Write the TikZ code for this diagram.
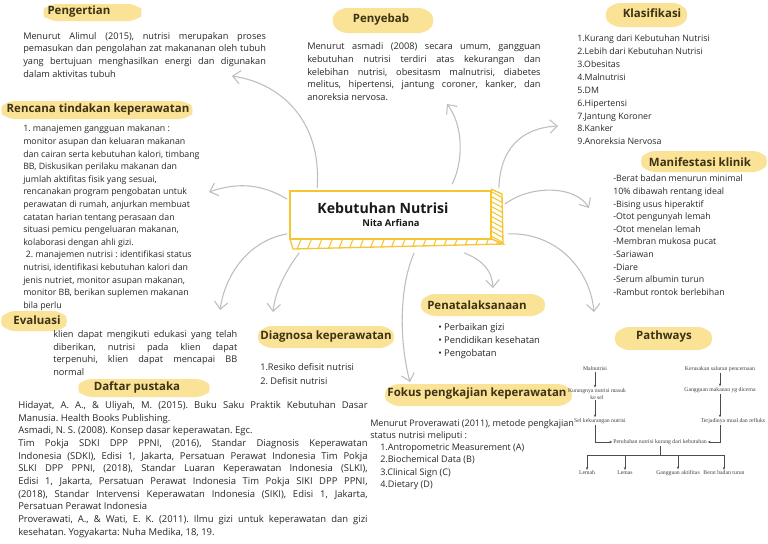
\documentclass[tikz,border=0pt]{standalone}
\usepackage{fontspec}
\setmainfont{Open Sans}
\newfontfamily\pwfont{Liberation Serif}
\usetikzlibrary{arrows.meta,calc}
\definecolor{hly}{RGB}{250,226,150}
\definecolor{hdtxt}{RGB}{60,50,20}
\definecolor{bodytxt}{RGB}{40,40,40}
\definecolor{boxy}{RGB}{245,198,50}
\definecolor{arrc}{RGB}{190,190,190}
\frenchspacing
\tikzset{
  hd/.style={font=\fontsize{8.6}{10}\selectfont\bfseries, text=hdtxt, inner sep=0pt},
  jtext/.style={font=\fontsize{6.9}{9.5}\selectfont, text=bodytxt, align=justify, inner sep=0pt, anchor=north west},
  ltext/.style={font=\fontsize{6.6}{9.5}\selectfont, text=bodytxt, align=left, inner sep=0pt, anchor=north west},
  conn/.style={draw=arrc, line width=0.8pt, -{Straight Barb[length=5.5pt,width=10pt]}},
  pwtext/.style={font=\pwfont\fontsize{4.3}{5}\selectfont, text=black!75, inner sep=0.6pt, align=center},
  pwarr/.style={draw=black!70, line width=0.35pt, -{Stealth[length=2.2pt,width=1.8pt]}},
  pwline/.style={draw=black!70, line width=0.35pt},
  hatch/.style={draw=boxy, line width=0.8pt},
}
\newcommand\hlbar[4]{\fill[hly, rounded corners=6pt] (#1,{(#2+#4)/2}) -- ({#1+9},#2) -- ({#3-9},#2) -- (#3,{(#2+#4)/2}) -- ({#3-9},#4) -- ({#1+9},#4) -- cycle;}
\begin{document}
\begin{tikzpicture}[x=0.75pt,y=-0.75pt]
\useasboundingbox (0,0) rectangle (768,543);
\fill[white] (0,0) rectangle (768,543);

% highlights
\hlbar{40}{4}{145}{21}
\hlbar{330}{8}{436}{33}
\hlbar{603}{3}{690}{27}
\hlbar{-2}{101}{196}{119}
\hlbar{638}{151}{770}{172}
\hlbar{-2}{311}{70}{331}
\hlbar{255}{326}{397}{348}
\hlbar{75}{379}{213}{397}
\hlbar{418}{294}{548}{316}
\hlbar{382}{384}{575}{406}
\hlbar{612}{327}{715}{350}

% headings
\node[hd] (hPeng) at (79,12) {Pengertian};
\node[hd] (hPeny) at (381,20) {Penyebab};
\node[hd] (hKlas) at (652,13) {Klasifikasi};
\node[hd] (hRenc) at (98,110) {Rencana tindakan keperawatan};
\node[hd] (hMani) at (700,162) {Manifestasi klinik};
\node[hd] (hEval) at (37,320) {Evaluasi};
\node[hd] (hDiag) at (326,337) {Diagnosa keperawatan};
\node[hd] (hDaft) at (137,387) {Daftar pustaka};
\node[hd] (hPena) at (477,305) {Penatalaksanaan};
\node[hd] (hFoku) at (477,394) {Fokus pengkajian keperawatan};
\node[hd] (hPath) at (664,337) {Pathways};

% bodies
\node[jtext, text width=182pt] (tPeng) at (23,32) {Menurut Alimul (2015), nutrisi merupakan proses\linebreak pemasukan dan pengolahan zat makananan oleh tubuh\linebreak yang bertujuan menghasilkan energi dan digunakan\linebreak dalam aktivitas tubuh};

\node[jtext, text width=175pt] (tPeny) at (307,42.5) {Menurut asmadi (2008) secara umum, gangguan\linebreak kebutuhan nutrisi terdiri atas kekurangan dan\linebreak kelebihan nutrisi, obesitasm malnutrisi, diabetes\linebreak melitus, hipertensi, jantung coroner, kanker, dan\linebreak anoreksia nervosa.};

\node[ltext, font=\fontsize{6.6}{9.7}\selectfont] (tKlas) at (577,34.5) {1.Kurang dari Kebutuhan Nutrisi\\2.Lebih dari Kebutuhan Nutrisi\\3.Obesitas\\4.Malnutrisi\\5.DM\\6.Hipertensi\\7.Jantung Koroner\\8.Kanker\\9.Anoreksia Nervosa};

\node[ltext, font=\fontsize{6.6}{9.45}\selectfont] (tMani) at (613,175) {-Berat badan menurun minimal\\10\% dibawah rentang ideal\\-Bising usus hiperaktif\\-Otot pengunyah lemah\\-Otot menelan lemah\\-Membran mukosa pucat\\-Sariawan\\-Diare\\-Serum albumin turun\\-Rambut rontok berlebihan};

\node[ltext, font=\fontsize{6.6}{9.45}\selectfont] (tRenc) at (23,125) {1. manajemen gangguan makanan :\\monitor asupan dan keluaran makanan\\dan cairan serta kebutuhan kalori, timbang\\BB, Diskusikan perilaku makanan dan\\jumlah aktifitas fisik yang sesuai,\\rencanakan program pengobatan untuk\\perawatan di rumah, anjurkan membuat\\catatan harian tentang perasaan dan\\situasi pemicu pengeluaran makanan,\\kolaborasi dengan ahli gizi.\\\hspace*{2pt}2. manajemen nutrisi : identifikasi status\\nutrisi, identifikasi kebutuhan kalori dan\\jenis nutriet, monitor asupan makanan,\\monitor BB, berikan suplemen makanan\\bila perlu};

\node[jtext, text width=138pt, font=\fontsize{6.9}{9.6}\selectfont] (tEval) at (53,330) {klien dapat mengikuti edukasi yang telah\linebreak diberikan, nutrisi pada klien dapat\linebreak terpenuhi, klien dapat mencapai BB\linebreak normal};

\node[ltext, font=\fontsize{6.9}{10.5}\selectfont] (tDiag) at (260,363) {1.Resiko defisit nutrisi\\2. Defisit nutrisi};

\node[jtext, text width=262pt, font=\fontsize{7.1}{9.5}\selectfont] (tDaft) at (18,401) {Hidayat, A. A., \& Uliyah, M. (2015). Buku Saku Praktik Kebutuhan Dasar\linebreak Manusia. Health Books Publishing.\\Asmadi, N. S. (2008). Konsep dasar keperawatan. Egc.\\Tim Pokja SDKI DPP PPNI, (2016), Standar Diagnosis Keperawatan\linebreak Indonesia (SDKI), Edisi 1, Jakarta, Persatuan Perawat Indonesia Tim Pokja\linebreak SLKI DPP PPNI, (2018), Standar Luaran Keperawatan Indonesia (SLKI),\linebreak Edisi 1, Jakarta, Persatuan Perawat Indonesia Tim Pokja SIKI DPP PPNI,\linebreak (2018), Standar Intervensi Keperawatan Indonesia (SIKI), Edisi 1, Jakarta,\linebreak Persatuan Perawat Indonesia\\Proverawati, A., \& Wati, E. K. (2011). Ilmu gizi untuk keperawatan dan gizi\linebreak kesehatan. Yogyakarta: Nuha Medika, 18, 19.};

\node[ltext, font=\fontsize{7}{9.75}\selectfont] (tPena) at (438,323.5) {\textbullet\ Perbaikan gizi\\\textbullet\ Pendidikan kesehatan\\\textbullet\ Pengobatan};

\node[ltext, font=\fontsize{6.8}{9.2}\selectfont] (tFoku) at (370,419) {Menurut Proverawati (2011), metode pengkajian\\status nutrisi meliputi :\\\hspace*{7.5pt}1.Antropometric Measurement (A)\\\hspace*{7.5pt}2.Biochemical Data (B)\\\hspace*{7.5pt}3.Clinical Sign (C)\\\hspace*{7.5pt}4.Dietary (D)};

% central box: bottom and right faces
\fill[white] (290,239) -- (492,239) -- (503,244) -- (293,249) -- cycle;
\foreach \t in {0.02,0.07,...,1} \draw[hatch] ($(293,249)!\t!(503,244)$) -- ++(4,-10);
\draw[hatch, line width=1pt] (290,239) -- (492,239) -- (503,244) -- (293,249) -- cycle;
\fill[white] (491,189) -- (502,194) -- (503,244) -- (492,239) -- cycle;
\foreach \t in {0.05,0.15,...,1} \draw[hatch] ($(491,189)!\t!(492,239)$) -- ++(11,6);
\draw[hatch, line width=1pt] (491,189) -- (502,194) -- (503,244) -- (492,239);
\node[draw=boxy, line width=1.3pt, fill=white, minimum width=150.75pt, minimum height=36pt, inner sep=0pt] (center) at (390.5,215) {};
\node[font=\fontsize{10.6}{12}\selectfont\bfseries, text=black!90, inner sep=0pt] (title) at (383,208) {Kebutuhan Nutrisi};
\node[font=\fontsize{7}{8}\selectfont\bfseries, text=black!90, inner sep=0pt] (sub) at (391,223) {Nita Arfiana};

% connectors
\coordinate (ePeng) at (232,76);
\coordinate (eRenc) at (209,192);
\coordinate (eEval) at (220,310);
\coordinate (eDiag) at (273,312);
\coordinate (eFoku) at (410,382);
\coordinate (ePena) at (493,288);
\coordinate (ePath) at (594,312);
\coordinate (eMani) at (589,208);
\coordinate (eKlas) at (558,126);
\coordinate (ePeny) at (447,104);
\draw[conn] ($(center.north west)+(28,-2)$) .. controls (322,125) and (285,84) .. (ePeng);
\draw[conn] ($(center.north west)+(-2,9)$) .. controls (262,184) and (238,182) .. (eRenc);
\draw[conn] ($(center.south west)+(-2,-6)$) .. controls (252,240) and (226,270) .. (eEval);
\draw[conn] ($(center.south west)+(10,13)$) .. controls (285,272) and (275,292) .. (eDiag);
\draw[conn] ($(center.south west)+(125,13)$) .. controls (398,290) and (400,345) .. (eFoku);
\draw[conn] ($(center.south west)+(175,13)$) .. controls (482,260) and (492,270) .. (ePena);
\draw[conn] ($(center.south east)+(16,-6)$) .. controls (555,232) and (590,268) .. (ePath);
\draw[conn] ($(center.north east)+(13,14)$) .. controls (530,185) and (575,185) .. (eMani);
\draw[conn] ($(center.north east)+(7,-2)$) .. controls (500,150) and (520,128) .. (eKlas);
\draw[conn] ($(center.north west)+(163,-6)$) .. controls (464,160) and (463,125) .. (ePeny);

% pathways
\node[pwtext] (pw1) at (595,369) {Malnutrisi};
\node[pwtext] (pw2) at (597,394) {Kurangnya nutrisi masuk\\ke sel};
\node[pwtext] (pw3) at (600,421) {Sel kekurangan nutrisi};
\node[pwtext] (pw4) at (720,369) {Kerusakan saluran pencernaan};
\node[pwtext] (pw5) at (720,390) {Gangguan makanan yg dicerna};
\node[pwtext] (pw6) at (733,421) {Terjadinya mual dan refluks};
\node[pwtext] (pw7) at (660,442) {Perubahan nutrisi kurang dari kebutuhan};
\node[pwtext] (pw8) at (587,473) {Lemah};
\node[pwtext] (pw9) at (625,473) {Lemas};
\node[pwtext] (pw10) at (678,473) {Gangguan aktifitas};
\node[pwtext] (pw11) at (724,473) {Berat badan turun};
\coordinate (bar) at (655,455);
\draw[pwarr] (pw1.south) -- (pw1.south |- pw2.north);
\draw[pwarr] (pw1.south |- pw2.south) -- (pw1.south |- pw3.north);
\draw[pwarr] (pw1.south |- pw3.south) |- (pw7.west);
\draw[pwarr] (pw4.south) -- (pw5.north);
\draw[pwarr] (pw5.south) -- (pw4.south |- pw6.north);
\draw[pwarr] (pw4.south |- pw6.south) |- (pw7.east);
\draw[pwline] (pw7.south) -- (pw7.south |- bar);
\draw[pwline] (pw8.north |- bar) -- (pw11.north |- bar);
\draw[pwarr] (pw8.north |- bar) -- (pw8.north);
\draw[pwarr] (pw9.north |- bar) -- (pw9.north);
\draw[pwarr] (pw10.north |- bar) -- (pw10.north);
\draw[pwarr] (pw11.north |- bar) -- (pw11.north);
\end{tikzpicture}
\end{document}
